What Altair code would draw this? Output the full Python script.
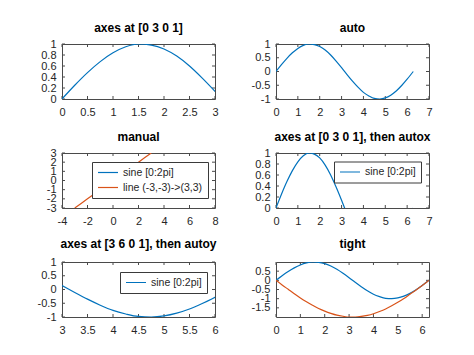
import altair as alt
import pandas as pd

# ---------------- data ----------------
T = [0, 0.25, 0.5, 0.75, 1.0, 1.25, 1.5, 1.75, 2.0, 2.25, 2.5, 2.75, 3.0,
     3.25, 3.5, 3.75, 4.0, 4.25, 4.5, 4.75, 5.0, 5.25, 5.5, 5.75, 6.0, 6.28]
SINE = [0.00, 0.25, 0.48, 0.68, 0.84, 0.95, 1.00, 0.98, 0.91, 0.78, 0.60, 0.38, 0.14,
        -0.11, -0.35, -0.57, -0.76, -0.89, -0.98, -1.00, -0.96, -0.86, -0.71, -0.51, -0.28, 0.00]
HALF_SINE = [0.00, -0.25, -0.49, -0.73, -0.96, -1.17, -1.36, -1.54, -1.68, -1.80, -1.90, -1.96, -2.00,
             -2.00, -1.97, -1.91, -1.82, -1.70, -1.56, -1.39, -1.20, -0.99, -0.76, -0.53, -0.28, 0.00]
LINE_X = [-3, -2, -1, 0, 1, 2, 3]
LINE_Y = [-3, -2, -1, 0, 1, 2, 3]

SINE_LABEL = "sine [0:2pi]"
LINE_LABEL = "line (-3,-3)->(3,3)"
HALF_LABEL = "-2 sin(t/2)"

TITLES = ["axes at [0 3 0 1]", "auto", "manual", "axes at [0 3 0 1], then autox",
          "axes at [3 6 0 1], then autoy", "tight"]

X_DOMAINS = [[0, 3], [0, 7], [-4, 8], [0, 7], [3, 6], [0, 6.28]]
Y_DOMAINS = [[0, 1], [-1, 1], [-3, 3], [0, 1], [-1, 1], [-2, 1]]

X_TICKS = [
    [0, 0.5, 1, 1.5, 2, 2.5, 3],
    [0, 1, 2, 3, 4, 5, 6, 7],
    [-4, -2, 0, 2, 4, 6, 8],
    [0, 1, 2, 3, 4, 5, 6, 7],
    [3, 3.5, 4, 4.5, 5, 5.5, 6],
    [0, 1, 2, 3, 4, 5, 6],
]
Y_TICKS = [
    [0, 0.2, 0.4, 0.6, 0.8, 1],
    [-1, -0.5, 0, 0.5, 1],
    [-3, -2, -1, 0, 1, 2, 3],
    [0, 0.2, 0.4, 0.6, 0.8, 1],
    [-1, -0.5, 0, 0.5, 1],
    [-1.5, -1, -0.5, 0, 0.5],
]

# ---------------- style ----------------
W, H = 153, 55
BLUE = "#0072BD"
ORANGE = "#D95319"
AXC = "#4a4a4a"
TXT = "#262626"
FONT = "Liberation Sans"
TICK = 3


def series(name, xs, ys):
    return pd.DataFrame({"x": xs, "y": ys, "s": [name] * len(xs)})


def panel(i, df, names, colors, legend=None, title_offset=-5.5):
    xs = alt.Scale(domain=X_DOMAINS[i], nice=False, zero=False)
    ys = alt.Scale(domain=Y_DOMAINS[i], nice=False, zero=False)
    X = alt.X("x:Q", scale=xs, title=None,
              axis=alt.Axis(values=X_TICKS[i], labelExpr="'' + datum.value"))
    Y = alt.Y("y:Q", scale=ys, title=None,
              axis=alt.Axis(values=Y_TICKS[i], labelExpr="'' + datum.value"))
    col = alt.Color("s:N", scale=alt.Scale(domain=names, range=colors),
                    legend=legend, sort=names)
    lines = alt.Chart(df).mark_line(clip=True, strokeWidth=1.2,
                                    interpolate="monotone").encode(x=X, y=Y, color=col)
    xt = pd.DataFrame({"x": X_TICKS[i]})
    yt = pd.DataFrame({"y": Y_TICKS[i]})
    tb = alt.Chart(xt).mark_rule(color=AXC, strokeWidth=1).encode(
        x=X, y=alt.value(H), y2=alt.value(H - TICK))
    tt = alt.Chart(xt).mark_rule(color=AXC, strokeWidth=1).encode(
        x=X, y=alt.value(0), y2=alt.value(TICK))
    tl = alt.Chart(yt).mark_rule(color=AXC, strokeWidth=1).encode(
        y=Y, x=alt.value(0), x2=alt.value(TICK))
    tr = alt.Chart(yt).mark_rule(color=AXC, strokeWidth=1).encode(
        y=Y, x=alt.value(W), x2=alt.value(W - TICK))
    return alt.layer(tb, tt, tl, tr, lines).properties(
        width=W, height=H,
        title=alt.TitleParams(TITLES[i], fontSize=12, fontWeight="bold", font=FONT,
                              color="black", anchor="middle", frame="group",
                              baseline="alphabetic", offset=title_offset))


def make_legend(lx, ly):
    return alt.Legend(orient="none", legendX=lx, legendY=ly, title=None,
                      fillColor="white", strokeColor="#3a3a3a", padding=5,
                      symbolType="stroke", symbolSize=400, symbolStrokeWidth=1.2,
                      labelFontSize=10.5, labelFont=FONT, labelColor=TXT,
                      clipHeight=11, rowPadding=4, labelOffset=4, cornerRadius=0)


sine_df = series(SINE_LABEL, T, SINE)

p1 = panel(0, sine_df, [SINE_LABEL], [BLUE])
p2 = panel(1, sine_df, [SINE_LABEL], [BLUE])
p3 = panel(2, pd.concat([sine_df, series(LINE_LABEL, LINE_X, LINE_Y)]),
           [SINE_LABEL, LINE_LABEL], [BLUE, ORANGE], legend=make_legend(30, 9))
p4 = panel(3, sine_df, [SINE_LABEL], [BLUE], legend=make_legend(58, 8.5))
p5 = panel(4, sine_df, [SINE_LABEL], [BLUE], legend=make_legend(58, 10), title_offset=-3.5)
p6 = panel(5, pd.concat([sine_df, series(HALF_LABEL, T, HALF_SINE)]),
           [SINE_LABEL, HALF_LABEL], [BLUE, ORANGE], title_offset=1.5)

chart = alt.concat(p1, p2, p3, p4, p5, p6, columns=2,
                   spacing={"row": 54, "column": 61}, bounds="flush").resolve_scale(
    color="independent").resolve_legend(color="independent").properties(
    padding={"left": 36, "top": 21, "right": 0, "bottom": 0},
    background="white",
).configure_view(stroke=AXC, strokeWidth=1).configure_axis(
    domain=False, ticks=False, grid=False, labelFont=FONT, labelFontSize=11,
    labelColor=TXT, labelFlush=False, labelOverlap=False, labelBound=False,
).configure_axisX(labelPadding=7).configure_axisY(labelPadding=6)

chart.save("out.html", embed_options={"renderer": "svg", "actions": False})
